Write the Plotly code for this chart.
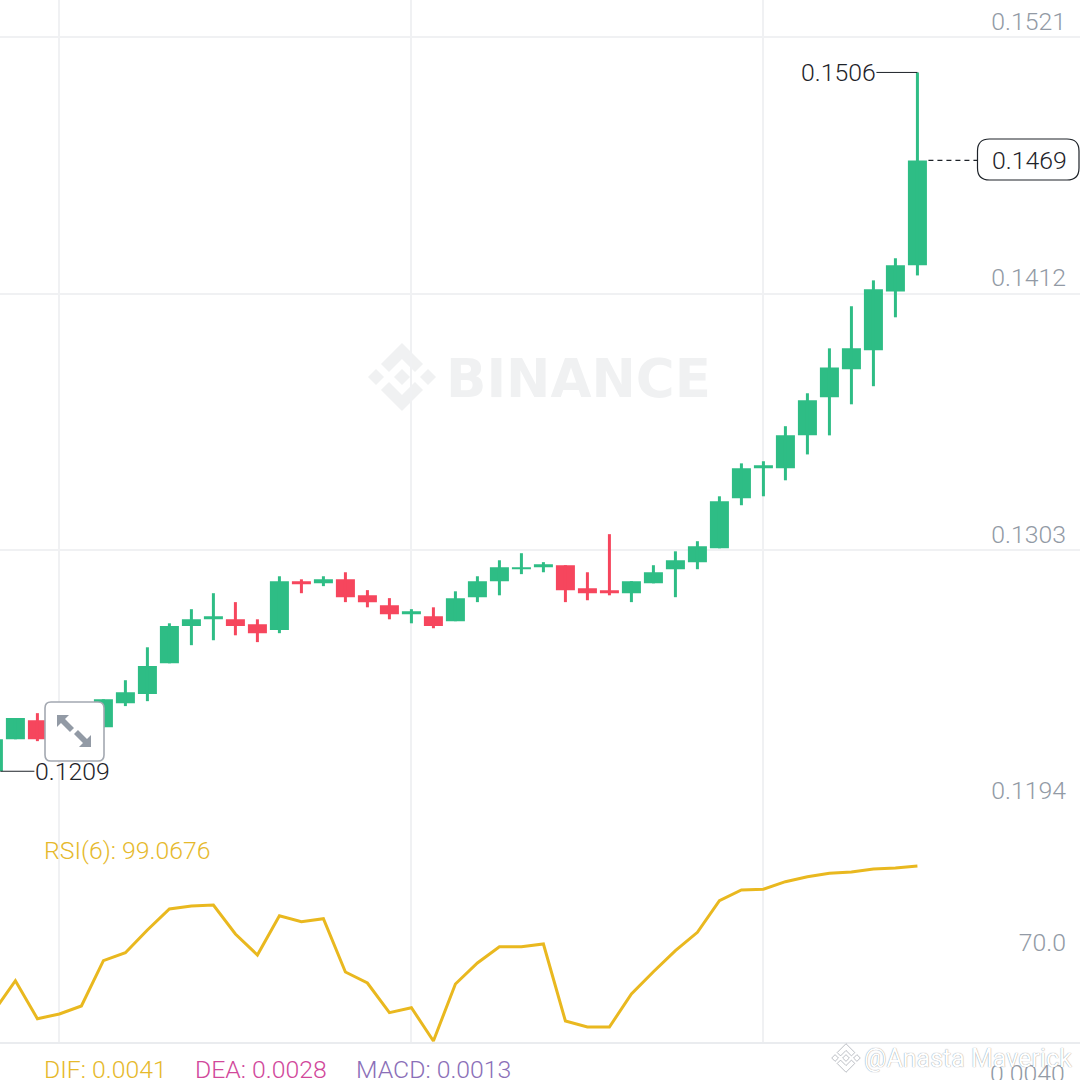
import plotly.graph_objects as go
from plotly.subplots import make_subplots

candle_index = list(range(43))
opens = [0.12090,0.12226,0.12307,0.12226,0.12277,0.12277,0.12379,0.12418,0.12549,0.12707,0.12736,0.12736,0.12715,0.12690,0.12898,0.12889,0.12906,0.12838,0.12796,0.12758,0.12749,0.12728,0.12830,0.12898,0.12949,0.12957,0.12966,0.12868,0.12860,0.12847,0.12889,0.12949,0.12979,0.13038,0.13251,0.13378,0.13378,0.13518,0.13680,0.13799,0.13880,0.14130,0.14241]
highs = [0.12226,0.12316,0.12337,0.12299,0.12328,0.12396,0.12477,0.12617,0.12719,0.12779,0.12847,0.12809,0.12736,0.12919,0.12906,0.12919,0.12936,0.12860,0.12826,0.12779,0.12787,0.12855,0.12919,0.12987,0.13017,0.12979,0.12966,0.12936,0.13098,0.12898,0.12966,0.13025,0.13068,0.13259,0.13399,0.13408,0.13557,0.13697,0.13888,0.14067,0.14177,0.14271,0.15061]
lows = [0.12090,0.12226,0.12218,0.12213,0.12252,0.12277,0.12367,0.12388,0.12549,0.12626,0.12647,0.12668,0.12639,0.12677,0.12847,0.12877,0.12809,0.12787,0.12736,0.12719,0.12698,0.12728,0.12809,0.12838,0.12928,0.12936,0.12809,0.12817,0.12838,0.12809,0.12889,0.12830,0.12949,0.13038,0.13221,0.13259,0.13327,0.13437,0.13518,0.13650,0.13727,0.14020,0.14198]
closes = [0.12226,0.12316,0.12226,0.12277,0.12299,0.12396,0.12426,0.12537,0.12707,0.12736,0.12749,0.12707,0.12677,0.12898,0.12885,0.12906,0.12830,0.12809,0.12758,0.12770,0.12707,0.12826,0.12898,0.12957,0.12957,0.12970,0.12860,0.12847,0.12847,0.12898,0.12936,0.12987,0.13047,0.13238,0.13378,0.13391,0.13518,0.13667,0.13807,0.13888,0.14139,0.14241,0.14687]
rsi_values = [52.94,62.83,50.82,52.31,54.83,69.15,71.67,78.85,85.48,86.43,86.75,77.58,70.95,83.36,81.47,82.42,65.58,62.10,52.72,54.30,43.78,61.79,68.42,73.57,73.57,74.42,50.09,48.20,48.20,58.63,65.67,72.31,78.12,88.10,91.49,91.71,94.11,95.69,96.76,97.17,98.12,98.44,99.07]

price_ticks = [0.1521, 0.1412, 0.1303, 0.1194]
price_labels = ["0.1521", "0.1412", "0.1303", "0.1194"]
rsi_ticks = [70]
rsi_labels = ["70.0"]
high_label, low_label, last_label = "0.1506", "0.1209", "0.1469"
rsi_text, dif_text, dea_text, macd_text = "RSI(6): 99.0676", "DIF: 0.0041", "DEA: 0.0028", "MACD: 0.0013"
macd_tick = "0.0040"
brand, author = "BINANCE", "@Anasta Maverick"

GREEN, RED = "#2ebd85", "#f6465d"
GRID, GREY, INK = "#f0f1f3", "#929aa5", "#1e2329"
FONT = "Roboto"
SIZE = 24.8
W = H = 1080


def px(x):
    return x / W


def py(y):
    return 1 - y / H


def poly(points):
    return "M " + " L ".join(f"{px(x):.5f},{py(y):.5f}" for x, y in points) + " Z"


def round_rect(x0, y0, x1, y1, r):
    def p(x, y):
        return f"{px(x):.5f},{py(y):.5f}"
    return (f"M {p(x0+r,y0)} L {p(x1-r,y0)} Q {p(x1,y0)} {p(x1,y0+r)} L {p(x1,y1-r)} Q {p(x1,y1)} {p(x1-r,y1)} "
            f"L {p(x0+r,y1)} Q {p(x0,y1)} {p(x0,y1-r)} L {p(x0,y0+r)} Q {p(x0,y0)} {p(x0+r,y0)} Z")


fig = make_subplots(rows=3, cols=1, shared_xaxes=True, vertical_spacing=0,
                    row_heights=[807 / H, 235 / H, 38 / H])


def wicks(up):
    xs, ys = [], []
    for i, o, h, l, c in zip(candle_index, opens, highs, lows, closes):
        if (c >= o) == up:
            xs += [i, i, None]
            ys += [l, h, None]
    return xs, ys


for up, col in ((True, GREEN), (False, RED)):
    xs, ys = wicks(up)
    fig.add_trace(go.Scatter(x=xs, y=ys, mode="lines", line=dict(color=col, width=3), hoverinfo="skip",
                             showlegend=False), row=1, col=1)

fig.add_trace(go.Candlestick(x=candle_index, open=opens, high=highs, low=lows, close=closes,
                             increasing=dict(fillcolor=GREEN, line=dict(color=GREEN, width=0)),
                             decreasing=dict(fillcolor=RED, line=dict(color=RED, width=0)),
                             whiskerwidth=0, showlegend=False, hoverinfo="skip"), row=1, col=1)

fig.add_trace(go.Scatter(x=candle_index, y=rsi_values, mode="lines", line=dict(color="#e9b81f", width=3),
                         hoverinfo="skip", showlegend=False), row=2, col=1)

tick_font = dict(family=FONT, size=SIZE, color=GREY, weight=300)
xcommon = dict(range=[0.30, 49.39], showticklabels=False, ticks="", showgrid=True, gridcolor=GRID, gridwidth=1.5,
               tick0=3, dtick=16, zeroline=False, showline=False, rangeslider=dict(visible=False))
fig.update_xaxes(**xcommon)
fig.update_xaxes(showline=True, linecolor="#eaecef", linewidth=2, row=2, col=1)

fig.update_yaxes(row=1, col=1, range=[0.11938, 0.15369], side="right", tickvals=price_ticks, ticktext=price_labels,
                 ticklabelposition="inside", ticklabelstandoff=11, ticklabelshift=-16, tickfont=tick_font, ticks="",
                 showgrid=True, gridcolor=GRID, gridwidth=1.5, zeroline=False)
fig.update_yaxes(row=2, col=1, range=[43.46, 117.7], side="right", tickvals=rsi_ticks, ticktext=rsi_labels,
                 ticklabelposition="inside", ticklabelstandoff=11, ticklabelshift=-16, tickfont=tick_font, ticks="",
                 showgrid=False, zeroline=False)
fig.update_yaxes(row=3, col=1, range=[0, 1], showticklabels=False, ticks="", showgrid=False, zeroline=False)

shapes = []
# high / low / last leader lines
shapes.append(dict(type="line", xref="x", yref="y", xsizemode="pixel", xanchor=candle_index[-1], x0=-41, x1=0,
                   y0=max(highs), y1=max(highs), line=dict(color=INK, width=1)))
shapes.append(dict(type="line", xref="x", yref="y", xsizemode="pixel", xanchor=candle_index[0], x0=7, x1=41,
                   y0=min(lows), y1=min(lows), line=dict(color=INK, width=1)))
shapes.append(dict(type="line", xref="x", yref="y", xsizemode="pixel", xanchor=candle_index[-1], x0=11, x1=60,
                   y0=closes[-1], y1=closes[-1], line=dict(color=INK, width=1.2, dash="5px,4px")))
# last price pill
shapes.append(dict(type="path", xref="paper", yref="paper", path=round_rect(977.5, 139, 1079, 180, 12),
                   fillcolor="white", line=dict(color=INK, width=1.2), layer="above"))
# expand button
shapes.append(dict(type="path", xref="paper", yref="paper", path=round_rect(45, 702, 104, 761, 6),
                   fillcolor="white", line=dict(color="#a3a8b1", width=1.6), layer="above"))
shapes.append(dict(type="path", xref="paper", yref="paper", fillcolor="#929aa5", line=dict(width=0), layer="above",
                   path=poly([(57, 715), (69, 715), (65, 719), (74, 728), (70, 732), (61, 723), (57, 727)])))
shapes.append(dict(type="path", xref="paper", yref="paper", fillcolor="#929aa5", line=dict(width=0), layer="above",
                   path=poly([(91, 747), (79, 747), (83, 743), (74, 734), (78, 730), (87, 739), (91, 735)])))


def logo(cx, cy, k, fill, line_col=None, layer="below"):
    parts = [
        [(0, -34), (21, -13), (13, -5), (0, -18), (-13, -5), (-21, -13)],
        [(0, 34), (21, 13), (13, 5), (0, 18), (-13, 5), (-21, 13)],
        [(-34, 0), (-26, -8), (-18, 0), (-26, 8)],
        [(34, 0), (26, -8), (18, 0), (26, 8)],
        [(0, -8), (8, 0), (0, 8), (-8, 0)],
    ]
    out = []
    for part in parts:
        pts = [(cx + k * a, cy + k * b) for a, b in part]
        out.append(dict(type="path", xref="paper", yref="paper", path=poly(pts), fillcolor=fill, layer=layer,
                        line=dict(color=line_col, width=0.8) if line_col else dict(width=0)))
    return out


shapes += logo(402, 377, 1, "#f0f1f2")
shapes += logo(846, 1058, 0.42, "white", "#a9adb5", "above")
fig.update_layout(shapes=shapes)


def note(text, x, y, color=GREY, anchor="left", size=SIZE, weight=300, family=FONT, **kw):
    return dict(text=text, x=px(x), y=py(y), xref="paper", yref="paper", xanchor=anchor, yanchor="middle",
                showarrow=False, font=dict(family=family, size=size, color=color, weight=weight, **kw))


annotations = [
    dict(text=high_label, x=candle_index[-1], y=max(highs), xref="x", yref="y", xshift=-39, xanchor="right",
         yanchor="middle", showarrow=False, font=dict(family=FONT, size=SIZE, color=INK, weight=300)),
    dict(text=low_label, x=px(33), y=min(lows), xref="paper", yref="y", xanchor="left",
         yanchor="middle", showarrow=False, font=dict(family=FONT, size=SIZE, color=INK, weight=300)),
    note(last_label, 1029, 160, INK, "center"),
    note(rsi_text, 42, 850, "#e6b92c"),
    note(dif_text, 42, 1069, "#e6b92c"),
    note(dea_text, 193, 1069, "#d1489b"),
    note(macd_text, 354, 1069, "#8b6fb8"),
    note(macd_tick, 1067, 1073, GREY, "right"),
    note(brand, 444, 378, "#f0f1f2", "left", size=53, weight=700, family="DejaVu Sans"),
    note(author, 862, 1058, "white", "left", size=25, weight=400, shadow="0 0 1px #6f7580"),
]
fig.update_layout(annotations=annotations, width=W, height=H, margin=dict(l=0, r=0, t=0, b=0), autosize=False,
                  paper_bgcolor="white", plot_bgcolor="white", boxgap=0.136, boxgroupgap=0, hovermode=False,
                  showlegend=False, font=dict(family=FONT))

fig.write_html("out.html", config=dict(displayModeBar=False),
               post_script="document.body.style.margin='0';document.body.style.overflow='hidden';")
